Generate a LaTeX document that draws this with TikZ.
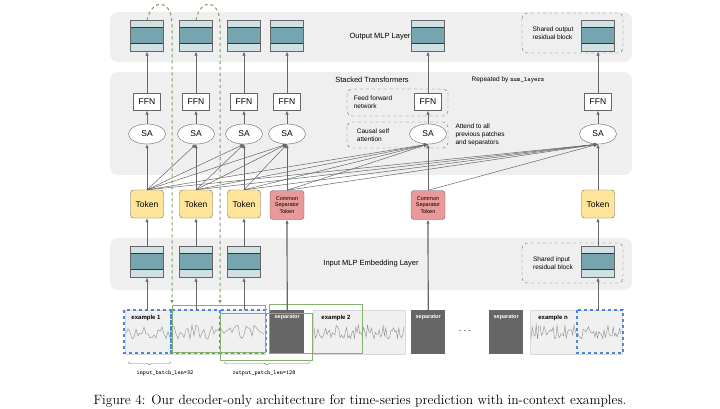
\documentclass[tikz,border=0pt]{standalone}
\usepackage{fontspec}
\setsansfont{Liberation Sans}
\usetikzlibrary{arrows.meta,decorations.pathreplacing,shapes.geometric}
\definecolor{panel}{HTML}{EFEFEF}
\definecolor{mlplight}{HTML}{D0E0E3}
\definecolor{mlpdark}{HTML}{76A5AF}
\definecolor{tokfill}{HTML}{FFE599}
\definecolor{sepfill}{HTML}{EA9999}
\definecolor{edge}{HTML}{666666}
\definecolor{grn}{HTML}{93C47D}
\definecolor{blu}{HTML}{4A86E8}
\tikzset{>={Latex[length=4pt,width=3.5pt]},
  panel/.style={fill=panel, rounded corners=8pt, draw=none},
  mlp/.style={draw=edge, fill=mlplight, minimum width=33pt, minimum height=31pt, inner sep=0pt,
    path picture={\fill[mlpdark] ([yshift=-7pt]path picture bounding box.north west) rectangle ([yshift=8pt]path picture bounding box.south east);
      \draw[black!80] ([yshift=-7pt]path picture bounding box.north west) -- ([yshift=-7pt]path picture bounding box.north east);
      \draw[black!80] ([yshift=8pt]path picture bounding box.south west) -- ([yshift=8pt]path picture bounding box.south east);}},
  ffn/.style={draw=edge, fill=white, minimum width=27pt, minimum height=17pt, inner sep=1pt, font=\sffamily\fontsize{8.5}{9}\selectfont},
  sa/.style={ellipse, draw=edge, fill=white, minimum width=37pt, minimum height=20pt, inner sep=0pt, font=\sffamily\fontsize{8.5}{9}\selectfont},
  tok/.style={draw=edge, fill=tokfill, rounded corners=3pt, minimum width=33pt, minimum height=28pt, font=\sffamily\fontsize{8.5}{9}\selectfont},
  septok/.style={draw=edge, fill=sepfill, rounded corners=3pt, minimum width=34pt, minimum height=29pt, align=center, inner sep=0pt, font=\sffamily\fontsize{5.5}{6.5}\selectfont},
  lbl/.style={font=\sffamily\fontsize{6.5}{8}\selectfont, align=left},
  dbox/.style={draw=edge, dashed, rounded corners=5pt},
  arr/.style={draw=edge, line width=0.6pt, ->},
  fan/.style={draw=edge, line width=0.5pt, ->},
  sepblk/.style={fill=edge, draw=none, minimum width=34pt, minimum height=44pt, inner sep=1pt},
  seplbl/.style={font=\sffamily\bfseries\fontsize{5.5}{6}\selectfont, text=white},
  patch/.style={fill=black!6, draw=black!15},
  wave/.style={draw=black!45, line width=0.4pt}
}
\begin{document}
\begin{tikzpicture}[x=1pt,y=-1pt]
\useasboundingbox (0,0) rectangle (720,408);

% Panels
\fill[panel] (110,12) rectangle (632,62);
\fill[panel] (110,72) rectangle (632,175);
\fill[panel] (110,238) rectangle (632,290);

% Dashed groups
\draw[dbox] (522,13) rectangle (623,53);
\node[lbl] at (553,33) {Shared output\\residual block};
\draw[dbox] (347,89) rectangle (448,116);
\node[lbl] at (373,102) {Feed forward\\network};
\draw[dbox] (347,122) rectangle (448,148);
\node[lbl] at (373,135) {Causal self\\attention};
\draw[dbox] (522,243) rectangle (623,283);
\node[lbl] at (553,263) {Shared input\\residual block};

% Labels
\node[lbl, font=\sffamily\fontsize{7.5}{8}\selectfont] at (380,37) {Output MLP Layer};
\node[lbl, font=\sffamily\fontsize{7.5}{8}\selectfont] at (372,80) {Stacked Transformers};
\node[lbl] at (508,80) {Repeated by \texttt{\bfseries num\_layers}};
\node[lbl, anchor=west] at (452,135) {Attend to all\\previous patches\\and separators};
\node[lbl, font=\sffamily\fontsize{7.5}{8}\selectfont] at (371,264) {Input MLP Embedding Layer};

% Columns
\foreach \i/\x in {1/147,2/196,3/244,4/287,5/428,6/598} {
  \node[mlp] (o\i) at (\x,36) {};
  \node[ffn] (f\i) at (\x,102) {FFN};
  \node[sa] (s\i) at (\x,134) {SA};
  \draw[arr] (s\i) -- (f\i);
  \draw[arr] (f\i) -- (o\i);
}
\foreach \i/\x in {1/147,2/196,3/244,6/598} {
  \node[tok] (t\i) at (\x,204) {Token};
  \node[mlp] (m\i) at (\x,262) {};
  \draw[arr] (m\i) -- (t\i);
}
\node[septok] (t4) at (287,205) {Common\\Separator\\Token};
\node[septok] (t5) at (428,205) {Common\\Separator\\Token};
\foreach \i in {1,2,3,4,5,6} \draw[arr] (t\i) -- (s\i);

% Attention fan
\foreach \a/\b in {1/2,1/3,1/4,1/5,1/6,2/3,2/4,2/5,2/6,3/4,3/5,3/6,4/5,4/6,5/6}
  \draw[fan] (t\a.north) -- (s\b.south);

% Time series
\fill[patch] (125,310) rectangle (265,354);
\fill[patch] (313,310) rectangle (405,354);
\fill[patch] (530,310) rectangle (622,354);
\pgfmathsetseed{7}
\foreach \a/\b in {126/264,314/404,531/621}
  \draw[wave] plot[domain=\a:\b, samples=70] (\x,{332+7*rand});
\node[sepblk, anchor=north west] (p1) at (270,310) {};
\node[sepblk, anchor=north west] (p2) at (411,310) {};
\node[sepblk, anchor=north west] (p3) at (489,310) {};
\foreach \i in {1,2,3} \node[seplbl, anchor=north] at ([yshift=-1pt]p\i.north) {separator};
\node[font=\sffamily\bfseries\fontsize{6}{7}\selectfont] at (146,318) {example 1};
\node[font=\sffamily\bfseries\fontsize{6}{7}\selectfont] at (336,318) {example 2};
\node[font=\sffamily\bfseries\fontsize{6}{7}\selectfont] at (553,318) {example n};
\node[font=\sffamily\bfseries] at (465,331) {$\cdot\cdot\cdot$};

% Patch boxes
\draw[blu, dashed, line width=1.2pt] (124,310) rectangle (171,353);
\draw[blu, dashed, line width=1.2pt] (171,310) rectangle (220,353);
\draw[blu, dashed, line width=1.2pt] (220,310) rectangle (266,353);
\draw[blu, dashed, line width=1.2pt] (577,310) rectangle (623,353);
\draw[grn!90!black, line width=0.9pt] (172,305) rectangle (265,352);
\draw[grn!90!black, line width=0.9pt] (220,313) rectangle (312,360);
\draw[grn!90!black, line width=0.9pt] (269,304) rectangle (362,353);

% Inputs into embedding
\coordinate (c1) at (147,310);
\coordinate (c2) at (196,310);
\coordinate (c3) at (244,310);
\coordinate (c6) at (598,310);
\foreach \i in {1,2,3,6} \draw[arr] (c\i) -- (m\i);
\draw[edge, line width=1.2pt, ->] (p1.north) -- (t4);
\draw[edge, line width=1.2pt, ->] (p2.north) -- (t5);

% Braces
\draw[black!50, decorate, decoration={brace, mirror, amplitude=3pt}] (128,362) -- (171,362);
\draw[black!50, decorate, decoration={brace, mirror, amplitude=3pt}] (224,362) -- (310,362);
\node[font=\ttfamily\bfseries\fontsize{6}{7}\selectfont] at (165,373) {input\_batch\_len=32};
\node[font=\ttfamily\bfseries\fontsize{6}{7}\selectfont] at (264,373) {output\_patch\_len=128};

% Autoregressive feedback
\coordinate (g1) at (172,304);
\coordinate (g2) at (220,304);
\draw[grn!80!black, dashed, line width=1pt, ->] (o1.north) .. controls (152,-2) and (172,-2) .. (172,25) -- (g1);
\draw[grn!80!black, dashed, line width=1pt, ->] (o2.north) .. controls (200,-2) and (220,-2) .. (220,25) -- (g2);

% Caption
\node[font=\fontsize{13.5}{15}\selectfont] at (360,401) {Figure 4: Our decoder-only architecture for time-series prediction with in-context examples.};
\end{tikzpicture}
\end{document}
